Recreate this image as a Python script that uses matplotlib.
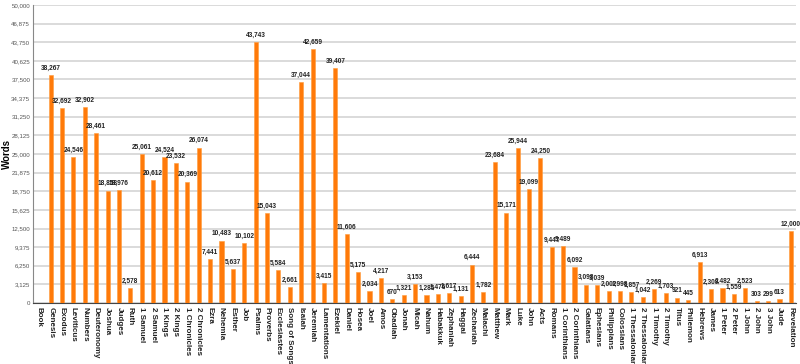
import matplotlib.pyplot as plt
import numpy as np

books = ["Book", "Genesis", "Exodus", "Leviticus", "Numbers", "Deuteronomy", "Joshua", "Judges", "Ruth",
         "1 Samuel", "2 Samuel", "1 Kings", "2 Kings", "1 Chronicles", "2 Chronicles", "Ezra", "Nehemia",
         "Esther", "Job", "Psalms", "Proverbs", "Ecclesiastes", "Song of Songs", "Isaiah", "Jeremiah",
         "Lamentations", "Ezekiel", "Daniel", "Hosea", "Joel", "Amos", "Obadiah", "Jonah", "Micah", "Nahum",
         "Habakkuk", "Zephaniah", "Haggai", "Zechariah", "Malachi", "Matthew", "Mark", "Luke", "John", "Acts",
         "Romans", "1 Corinthians", "2 Corinthians", "Galatians", "Ephesians", "Philippians", "Colossians",
         "1 Thessalonians", "2 Thessalonians", "1 Timothy", "2 Timothy", "Titus", "Philemon", "Hebrews",
         "James", "1 Peter", "2 Peter", "1 John", "2 John", "3 John", "Jude", "Revelation"]
words = [None, 38267, 32692, 24546, 32902, 28461, 18858, 18976, 2578,
         25061, 20612, 24524, 23532, 20369, 26074, 7441, 10483,
         5637, 10102, 43743, 15043, 5584, 2661, 37044, 42659,
         3415, 39407, 11606, 5175, 2034, 4217, 670, 1321, 3153, 1285,
         1476, 1617, 1131, 6444, 1782, 23684, 15171, 25944, 19099, 24250,
         9447, 9489, 6092, 3098, 3039, 2002, 1998,
         1857, 1042, 2269, 1703, 921, 445, 6913,
         2309, 2482, 1559, 2523, 303, 299, 613, 12000]
yticks = np.arange(0, 50001, 3125)

fig = plt.figure(figsize=(8, 3.64), dpi=100)
ax = fig.add_axes([33 / 800, 1 - 303 / 364, 763 / 800, 298 / 364])

x = np.arange(len(books))
vals = np.array([np.nan if v is None else v for v in words], dtype=float)
ax.bar(x, np.nan_to_num(vals), width=0.36, color="#ff7a0a", edgecolor="#ff9a3a", linewidth=0.4, zorder=3)

for i, v in enumerate(words):
    if v is None:
        continue
    ax.text(i, v + 550, f"{v:,}", ha="center", va="bottom", fontsize=4.7,
            fontweight="bold", color="#222222", family="Liberation Sans", zorder=4)

ax.set_xlim(-0.55, len(books) - 0.55)
ax.set_ylim(0, 50000)
ax.set_yticks(yticks)
ax.set_yticklabels([f"{t:,}" for t in yticks], fontsize=4.4, color="#555555", family="Liberation Sans")
ax.set_xticks(x)
ax.set_xticklabels(books, rotation=270, fontsize=5.8, fontweight="bold", color="#222222",
                   family="Liberation Sans")
ax.tick_params(axis="x", length=0, pad=3)
ax.tick_params(axis="y", length=0, pad=2)
ax.grid(axis="y", color="#d4d4d4", linewidth=1.2, zorder=0)
for s in ["top", "right"]:
    ax.spines[s].set_visible(False)
ax.spines["left"].set_color("#888888")
ax.spines["bottom"].set_color("#444444")
fig.text(7 / 800, 0.5 * (1 - 303 / 364) + 0.5 * (1 - 5 / 364), "Words", rotation=90,
         ha="center", va="center", fontsize=7, fontweight="bold", family="Liberation Sans")

fig.savefig("out.png", dpi=100)
